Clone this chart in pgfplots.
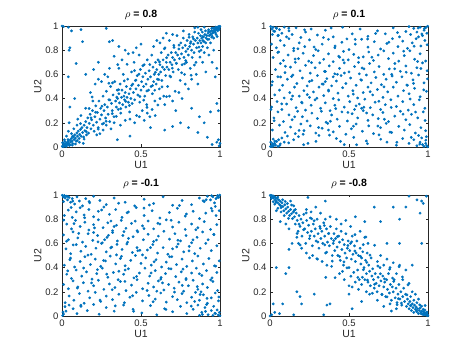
\documentclass[border=0pt]{standalone}
\usepackage{fontspec}
\setmainfont{Liberation Sans}
\usepackage{pgfplots}
\pgfplotsset{compat=1.18}
\definecolor{mblue}{rgb}{0,0.447,0.741}
\definecolor{mgray}{rgb}{0.15,0.15,0.15}
\pgfplotsset{
  cop/.style={
    scale only axis, width=158pt, height=121pt,
    xmin=0, xmax=1, ymin=0, ymax=1,
    xtick={0,0.5,1}, ytick={0,0.2,0.4,0.6,0.8,1},
    xticklabels={0,0.5,1}, yticklabels={0,0.2,0.4,0.6,0.8,1},
    tick align=inside, major tick length=2.5pt,
    axis line style={mgray, line width=0.6pt},
    every tick/.style={mgray, line width=0.5pt},
    tick label style={font=\fontsize{9.5}{10}\selectfont, text=mgray},
    label style={font=\fontsize{10.5}{12}\selectfont, text=mgray},
    title style={font=\fontsize{10.5}{12}\selectfont\bfseries, text=black, yshift=-3pt},
    xlabel={U1}, ylabel={U2},
    xlabel style={yshift=3pt}, ylabel style={yshift=-3pt},
    clip=false,
    /pgf/number format/assume math mode=true,
  },
  dots/.style={only marks, mark=*, mark size=1.2pt, mblue, mark options={draw=none, fill=mblue}},
}
\begin{document}
\begin{tikzpicture}
\path[use as bounding box] (0,0) rectangle (474pt,355pt);
% rho = 0.8
\begin{axis}[cop, at={(62pt,208pt)}, anchor=south west, title={$\rho$ = 0.8}]
\addplot[dots] table[row sep=\\] {
x y\\
0.002 0.004\\ 0.006 0.010\\ 0.010 0.003\\ 0.012 0.018\\ 0.016 0.009\\ 0.020 0.026\\ 0.024 0.014\\ 0.027 0.005\\
0.031 0.035\\ 0.035 0.022\\ 0.039 0.047\\ 0.043 0.030\\ 0.047 0.012\\ 0.051 0.058\\ 0.055 0.041\\ 0.060 0.072\\
0.064 0.050\\ 0.068 0.028\\ 0.072 0.085\\ 0.077 0.062\\ 0.081 0.100\\ 0.085 0.074\\ 0.090 0.048\\ 0.094 0.115\\
0.098 0.090\\ 0.103 0.132\\ 0.108 0.070\\ 0.112 0.104\\ 0.117 0.145\\ 0.121 0.088\\ 0.126 0.160\\ 0.131 0.120\\
0.004 0.035\\ 0.015 0.060\\ 0.028 0.090\\ 0.040 0.130\\ 0.018 0.045\\ 0.065 0.015\\ 0.085 0.025\\ 0.110 0.040\\
0.135 0.030\\ 0.060 0.110\\ 0.075 0.150\\ 0.045 0.200\\ 0.095 0.180\\ 0.140 0.065\\ 0.155 0.100\\
0.140 0.180\\ 0.145 0.135\\ 0.150 0.210\\ 0.158 0.160\\ 0.163 0.240\\ 0.168 0.115\\ 0.172 0.195\\ 0.178 0.270\\
0.183 0.150\\ 0.188 0.225\\ 0.193 0.300\\ 0.198 0.180\\ 0.203 0.130\\ 0.208 0.250\\ 0.214 0.340\\ 0.219 0.205\\
0.224 0.285\\ 0.229 0.160\\ 0.234 0.380\\ 0.240 0.230\\ 0.245 0.320\\ 0.250 0.265\\ 0.255 0.190\\ 0.260 0.420\\
0.266 0.300\\ 0.271 0.350\\ 0.276 0.240\\ 0.281 0.460\\ 0.287 0.330\\ 0.292 0.270\\ 0.297 0.390\\ 0.302 0.210\\
0.308 0.500\\ 0.313 0.360\\ 0.318 0.300\\ 0.323 0.430\\ 0.329 0.250\\ 0.334 0.540\\ 0.339 0.380\\ 0.344 0.330\\
0.350 0.470\\ 0.210 0.520\\ 0.230 0.560\\ 0.250 0.540\\ 0.270 0.600\\ 0.290 0.580\\ 0.300 0.650\\ 0.320 0.530\\
0.180 0.450\\ 0.195 0.380\\ 0.150 0.320\\ 0.120 0.260\\ 0.100 0.230\\ 0.260 0.140\\ 0.280 0.180\\ 0.310 0.150\\
0.330 0.200\\ 0.220 0.100\\ 0.240 0.110\\
0.352 0.400\\ 0.356 0.310\\ 0.360 0.440\\ 0.364 0.365\\ 0.368 0.520\\ 0.372 0.280\\ 0.376 0.410\\ 0.380 0.470\\
0.384 0.350\\ 0.388 0.600\\ 0.392 0.420\\ 0.396 0.390\\ 0.400 0.450\\ 0.404 0.330\\ 0.408 0.500\\ 0.412 0.410\\
0.416 0.560\\ 0.420 0.370\\ 0.424 0.440\\ 0.428 0.290\\ 0.432 0.480\\ 0.436 0.400\\ 0.440 0.620\\ 0.444 0.360\\
0.448 0.520\\ 0.452 0.450\\ 0.456 0.700\\ 0.460 0.390\\ 0.464 0.550\\ 0.468 0.480\\ 0.472 0.260\\ 0.476 0.590\\
0.480 0.430\\ 0.484 0.510\\ 0.488 0.760\\ 0.492 0.370\\ 0.496 0.640\\ 0.500 0.470\\ 0.504 0.540\\ 0.508 0.300\\
0.512 0.580\\ 0.516 0.500\\ 0.520 0.680\\ 0.524 0.420\\ 0.528 0.610\\ 0.532 0.520\\ 0.536 0.350\\ 0.540 0.720\\
0.544 0.560\\ 0.548 0.470\\ 0.552 0.630\\ 0.556 0.250\\ 0.560 0.580\\ 0.564 0.500\\ 0.568 0.760\\ 0.572 0.440\\
0.576 0.660\\ 0.580 0.540\\ 0.584 0.600\\ 0.588 0.380\\ 0.592 0.700\\ 0.596 0.520\\ 0.400 0.800\\ 0.420 0.770\\
0.450 0.780\\ 0.380 0.720\\ 0.360 0.650\\ 0.470 0.820\\ 0.500 0.850\\ 0.430 0.230\\ 0.460 0.200\\ 0.490 0.250\\
0.520 0.220\\ 0.540 0.280\\ 0.570 0.310\\ 0.590 0.260\\ 0.370 0.180\\ 0.400 0.220\\
0.600 0.640\\ 0.604 0.560\\ 0.608 0.720\\ 0.612 0.600\\ 0.616 0.480\\ 0.620 0.680\\ 0.624 0.620\\ 0.628 0.780\\
0.632 0.550\\ 0.636 0.660\\ 0.640 0.720\\ 0.644 0.420\\ 0.648 0.640\\ 0.652 0.820\\ 0.656 0.590\\ 0.660 0.700\\
0.664 0.660\\ 0.668 0.500\\ 0.672 0.760\\ 0.676 0.640\\ 0.680 0.880\\ 0.684 0.700\\ 0.688 0.580\\ 0.692 0.780\\
0.696 0.680\\ 0.700 0.740\\ 0.704 0.620\\ 0.708 0.840\\ 0.712 0.720\\ 0.716 0.460\\ 0.720 0.780\\ 0.724 0.690\\
0.728 0.920\\ 0.732 0.760\\ 0.736 0.640\\ 0.740 0.810\\ 0.744 0.730\\ 0.748 0.550\\ 0.752 0.860\\ 0.756 0.770\\
0.760 0.680\\ 0.764 0.820\\ 0.768 0.900\\ 0.772 0.740\\ 0.776 0.600\\ 0.780 0.840\\ 0.784 0.790\\ 0.788 0.700\\
0.792 0.880\\ 0.796 0.810\\ 0.800 0.760\\ 0.804 0.930\\ 0.808 0.830\\ 0.812 0.650\\ 0.816 0.870\\ 0.820 0.800\\
0.824 0.740\\ 0.828 0.910\\ 0.832 0.850\\ 0.836 0.780\\ 0.840 0.950\\ 0.844 0.880\\ 0.848 0.700\\ 0.852 0.820\\
0.856 0.900\\ 0.860 0.860\\ 0.864 0.940\\ 0.868 0.790\\ 0.620 0.400\\ 0.650 0.350\\ 0.680 0.420\\ 0.700 0.380\\
0.720 0.300\\ 0.740 0.450\\ 0.760 0.400\\ 0.780 0.520\\ 0.800 0.480\\ 0.820 0.560\\ 0.850 0.600\\ 0.860 0.520\\
0.640 0.900\\ 0.660 0.940\\ 0.700 0.930\\ 0.620 0.860\\ 0.600 0.880\\ 0.580 0.830\\
0.872 0.880\\ 0.876 0.920\\ 0.880 0.860\\ 0.884 0.900\\ 0.888 0.950\\ 0.892 0.880\\ 0.896 0.910\\ 0.900 0.870\\
0.904 0.930\\ 0.908 0.960\\ 0.912 0.900\\ 0.916 0.920\\ 0.920 0.890\\ 0.924 0.940\\ 0.928 0.970\\ 0.932 0.920\\
0.936 0.950\\ 0.940 0.930\\ 0.944 0.960\\ 0.948 0.980\\ 0.952 0.940\\ 0.956 0.960\\ 0.960 0.950\\ 0.964 0.975\\
0.968 0.960\\ 0.972 0.985\\ 0.976 0.970\\ 0.980 0.980\\ 0.984 0.990\\ 0.988 0.985\\ 0.992 0.995\\ 0.996 0.990\\
0.999 0.998\\ 0.990 0.975\\ 0.970 0.945\\ 0.950 0.915\\ 0.930 0.890\\ 0.910 0.860\\ 0.890 0.830\\ 0.880 0.800\\
0.900 0.780\\ 0.920 0.820\\ 0.940 0.860\\ 0.960 0.900\\ 0.975 0.930\\ 0.985 0.960\\ 0.995 0.975\\ 0.880 0.970\\
0.900 0.990\\ 0.860 0.990\\ 0.840 0.985\\ 0.930 0.760\\ 0.950 0.700\\ 0.970 0.580\\ 0.980 0.650\\ 0.960 0.800\\
0.890 0.700\\ 0.910 0.620\\
0.000 1.000\\ 0.010 0.995\\ 0.040 0.990\\ 0.060 0.960\\ 0.045 0.800\\ 0.050 0.820\\ 0.120 0.970\\ 0.130 0.870\\
0.090 0.690\\ 0.040 0.580\\ 0.050 0.330\\ 0.280 0.980\\ 0.300 0.870\\ 0.320 0.880\\ 0.230 0.700\\ 0.200 0.640\\
0.950 0.020\\ 0.980 0.040\\ 0.995 0.010\\ 1.000 0.030\\ 0.990 0.060\\ 0.920 0.080\\ 0.860 0.120\\ 0.800 0.160\\
0.650 0.140\\ 0.700 0.170\\ 0.750 0.200\\ 0.560 0.160\\ 0.430 0.090\\ 0.350 0.060\\ 0.900 0.200\\ 0.940 0.290\\
0.980 0.360\\ 0.990 0.300\\ 0.870 0.250\\ 0.820 0.320\\ 0.080 0.400\\ 0.150 0.600\\ 0.330 0.750\\ 0.360 0.830\\
0.213 0.287\\ 0.347 0.412\\ 0.468 0.553\\ 0.591 0.617\\ 0.724 0.693\\ 0.812 0.857\\ 0.153 0.127\\ 0.279 0.213\\
0.403 0.377\\ 0.537 0.463\\ 0.662 0.738\\ 0.783 0.714\\ 0.891 0.913\\ 0.067 0.089\\ 0.184 0.241\\ 0.318 0.276\\
0.441 0.509\\ 0.573 0.507\\ 0.698 0.651\\ 0.832 0.893\\ 0.947 0.908\\ 0.117 0.193\\ 0.253 0.337\\ 0.372 0.317\\
0.493 0.418\\ 0.617 0.703\\ 0.741 0.842\\ 0.867 0.826\\ 0.038 0.061\\ 0.229 0.148\\ 0.358 0.473\\ 0.487 0.602\\
0.613 0.557\\ 0.757 0.613\\ 0.873 0.743\\ 0.096 0.053\\ 0.303 0.389\\ 0.426 0.343\\ 0.556 0.681\\ 0.683 0.587\\
0.804 0.907\\ 0.927 0.957\\ 0.172 0.318\\ 0.394 0.547\\ 0.517 0.387\\ 0.648 0.812\\ 0.776 0.687\\ 0.264 0.196\\
0.459 0.631\\ 0.587 0.469\\ 0.709 0.823\\ 0.838 0.677\\ 0.137 0.083\\ 0.344 0.253\\ 0.512 0.671\\ 0.633 0.497\\
0.768 0.959\\ 0.982 0.913\\ 0.049 0.017\\ 0.021 0.009\\ 0.973 0.991\\ 0.957 0.983\\ 0.008 0.029\\ 0.993 0.968\\
0.412 0.683\\ 0.538 0.327\\ 0.297 0.527\\ 0.662 0.416\\ 0.191 0.413\\ 0.817 0.593\\ 0.353 0.681\\ 0.607 0.347\\
};
\end{axis}
% rho = 0.1
\begin{axis}[cop, at={(270pt,208pt)}, anchor=south west, title={$\rho$ = 0.1}]
\addplot[dots] table[row sep=\\] {
x y\\
0.003 0.004\\ 0.008 0.012\\ 0.012 0.003\\ 0.018 0.020\\ 0.022 0.008\\ 0.028 0.030\\ 0.035 0.015\\ 0.042 0.045\\
0.050 0.005\\ 0.055 0.060\\ 0.065 0.025\\ 0.075 0.075\\ 0.090 0.040\\ 0.110 0.090\\ 0.150 0.060\\ 0.180 0.085\\
0.240 0.030\\ 0.310 0.095\\ 0.420 0.070\\ 0.470 0.020\\ 0.530 0.080\\ 0.610 0.050\\ 0.690 0.100\\ 0.740 0.040\\
0.800 0.015\\ 0.840 0.070\\ 0.880 0.030\\ 0.910 0.060\\ 0.930 0.010\\ 0.950 0.040\\ 0.965 0.020\\ 0.975 0.005\\
0.985 0.030\\ 0.992 0.012\\ 0.998 0.002\\ 0.960 0.075\\ 0.990 0.085\\ 0.940 0.095\\ 0.020 0.065\\ 0.005 0.040\\
0.015 0.140\\ 0.060 0.180\\ 0.095 0.120\\ 0.130 0.165\\ 0.160 0.110\\ 0.195 0.190\\ 0.215 0.135\\ 0.255 0.175\\
0.290 0.115\\ 0.330 0.155\\ 0.365 0.195\\ 0.400 0.125\\ 0.440 0.170\\ 0.480 0.105\\ 0.515 0.150\\ 0.545 0.190\\
0.585 0.130\\ 0.625 0.175\\ 0.655 0.110\\ 0.700 0.160\\ 0.735 0.195\\ 0.770 0.120\\ 0.815 0.170\\ 0.850 0.140\\
0.885 0.185\\ 0.920 0.115\\ 0.955 0.160\\ 0.985 0.135\\ 0.210 0.105\\ 0.370 0.140\\
0.025 0.240\\ 0.050 0.290\\ 0.085 0.210\\ 0.120 0.265\\ 0.140 0.225\\ 0.175 0.295\\ 0.205 0.250\\ 0.235 0.215\\
0.265 0.280\\ 0.300 0.235\\ 0.325 0.295\\ 0.355 0.205\\ 0.390 0.265\\ 0.425 0.230\\ 0.455 0.290\\ 0.490 0.215\\
0.520 0.275\\ 0.555 0.240\\ 0.590 0.300\\ 0.620 0.220\\ 0.650 0.265\\ 0.685 0.235\\ 0.715 0.285\\ 0.750 0.210\\
0.790 0.255\\ 0.825 0.295\\ 0.860 0.225\\ 0.895 0.270\\ 0.935 0.240\\ 0.970 0.290\\
0.010 0.330\\ 0.045 0.375\\ 0.075 0.310\\ 0.105 0.355\\ 0.135 0.395\\ 0.165 0.325\\ 0.200 0.370\\ 0.225 0.305\\
0.260 0.345\\ 0.285 0.390\\ 0.320 0.320\\ 0.350 0.365\\ 0.380 0.300\\ 0.410 0.345\\ 0.435 0.390\\ 0.470 0.330\\
0.505 0.375\\ 0.535 0.310\\ 0.565 0.355\\ 0.600 0.395\\ 0.635 0.325\\ 0.665 0.370\\ 0.700 0.310\\ 0.730 0.350\\
0.765 0.390\\ 0.800 0.335\\ 0.840 0.375\\ 0.875 0.305\\ 0.910 0.350\\ 0.945 0.390\\ 0.980 0.320\\ 0.545 0.340\\
0.580 0.320\\
0.030 0.430\\ 0.060 0.470\\ 0.090 0.405\\ 0.125 0.450\\ 0.155 0.495\\ 0.185 0.420\\ 0.215 0.465\\ 0.250 0.410\\
0.275 0.455\\ 0.310 0.495\\ 0.340 0.425\\ 0.370 0.470\\ 0.400 0.400\\ 0.430 0.445\\ 0.460 0.490\\ 0.495 0.420\\
0.525 0.465\\ 0.555 0.405\\ 0.590 0.450\\ 0.620 0.495\\ 0.650 0.430\\ 0.680 0.475\\ 0.715 0.410\\ 0.745 0.455\\
0.780 0.495\\ 0.810 0.420\\ 0.845 0.465\\ 0.880 0.440\\ 0.915 0.485\\ 0.950 0.415\\ 0.990 0.460\\
0.015 0.540\\ 0.050 0.580\\ 0.080 0.510\\ 0.110 0.560\\ 0.145 0.595\\ 0.170 0.525\\ 0.205 0.570\\ 0.235 0.505\\
0.265 0.550\\ 0.300 0.590\\ 0.330 0.520\\ 0.360 0.565\\ 0.390 0.505\\ 0.420 0.545\\ 0.450 0.590\\ 0.480 0.525\\
0.510 0.570\\ 0.545 0.510\\ 0.575 0.555\\ 0.610 0.595\\ 0.640 0.530\\ 0.670 0.575\\ 0.705 0.515\\ 0.735 0.560\\
0.770 0.600\\ 0.800 0.535\\ 0.835 0.580\\ 0.870 0.510\\ 0.905 0.555\\ 0.940 0.595\\ 0.975 0.530\\ 0.400 0.580\\
0.350 0.540\\
0.035 0.640\\ 0.065 0.690\\ 0.095 0.615\\ 0.130 0.660\\ 0.160 0.700\\ 0.190 0.630\\ 0.225 0.675\\ 0.255 0.610\\
0.285 0.655\\ 0.315 0.695\\ 0.345 0.625\\ 0.375 0.670\\ 0.410 0.605\\ 0.440 0.650\\ 0.470 0.695\\ 0.500 0.620\\
0.535 0.665\\ 0.565 0.605\\ 0.595 0.645\\ 0.630 0.690\\ 0.660 0.620\\ 0.690 0.665\\ 0.720 0.600\\ 0.755 0.645\\
0.790 0.690\\ 0.825 0.625\\ 0.860 0.670\\ 0.895 0.610\\ 0.930 0.655\\ 0.965 0.695\\ 0.995 0.630\\
0.020 0.740\\ 0.055 0.785\\ 0.085 0.715\\ 0.115 0.760\\ 0.150 0.795\\ 0.180 0.730\\ 0.210 0.775\\ 0.245 0.710\\
0.275 0.755\\ 0.305 0.795\\ 0.340 0.725\\ 0.370 0.770\\ 0.400 0.705\\ 0.435 0.750\\ 0.465 0.790\\ 0.495 0.720\\
0.530 0.765\\ 0.560 0.700\\ 0.590 0.745\\ 0.625 0.785\\ 0.655 0.715\\ 0.685 0.760\\ 0.720 0.795\\ 0.750 0.730\\
0.780 0.775\\ 0.815 0.710\\ 0.850 0.755\\ 0.885 0.795\\ 0.915 0.725\\ 0.950 0.770\\ 0.985 0.710\\
0.010 0.850\\ 0.040 0.820\\ 0.065 0.880\\ 0.090 0.840\\ 0.120 0.895\\ 0.150 0.815\\ 0.185 0.860\\ 0.220 0.830\\
0.250 0.885\\ 0.290 0.805\\ 0.330 0.850\\ 0.370 0.890\\ 0.410 0.820\\ 0.455 0.865\\ 0.500 0.805\\ 0.540 0.850\\
0.580 0.890\\ 0.620 0.825\\ 0.660 0.870\\ 0.700 0.810\\ 0.740 0.855\\ 0.775 0.895\\ 0.810 0.830\\ 0.840 0.875\\
0.870 0.815\\ 0.900 0.860\\ 0.925 0.895\\ 0.955 0.835\\ 0.980 0.880\\ 0.995 0.845\\
0.005 0.995\\ 0.012 0.975\\ 0.020 0.990\\ 0.030 0.955\\ 0.040 0.985\\ 0.050 0.920\\ 0.060 0.970\\ 0.075 0.940\\
0.090 0.990\\ 0.105 0.910\\ 0.120 0.960\\ 0.140 0.930\\ 0.165 0.985\\ 0.195 0.905\\ 0.225 0.950\\ 0.260 0.975\\
0.300 0.925\\ 0.350 0.965\\ 0.400 0.910\\ 0.460 0.990\\ 0.520 0.935\\ 0.570 0.975\\ 0.620 0.915\\ 0.680 0.960\\
0.730 0.935\\ 0.780 0.985\\ 0.820 0.910\\ 0.860 0.955\\ 0.890 0.930\\ 0.910 0.980\\ 0.930 0.950\\ 0.950 0.990\\
0.965 0.920\\ 0.975 0.965\\ 0.985 0.985\\ 0.993 0.940\\ 0.998 0.998\\ 0.940 0.910\\ 0.880 0.995\\ 0.015 0.930\\
0.137 0.583\\ 0.842 0.271\\ 0.463 0.719\\ 0.291 0.047\\ 0.618 0.892\\ 0.074 0.356\\ 0.955 0.648\\ 0.382 0.213\\
0.527 0.437\\ 0.701 0.064\\ 0.219 0.968\\ 0.866 0.512\\ 0.049 0.781\\ 0.594 0.329\\ 0.338 0.904\\ 0.773 0.587\\
0.156 0.249\\ 0.912 0.833\\ 0.427 0.601\\ 0.689 0.378\\ 0.011 0.512\\ 0.263 0.697\\ 0.548 0.018\\ 0.807 0.946\\
0.371 0.462\\ 0.982 0.219\\ 0.118 0.034\\ 0.645 0.742\\ 0.493 0.286\\ 0.236 0.433\\ 0.759 0.123\\ 0.053 0.923\\
0.887 0.396\\ 0.412 0.834\\ 0.579 0.553\\ 0.308 0.161\\ 0.934 0.707\\ 0.177 0.812\\ 0.721 0.497\\ 0.446 0.047\\
0.026 0.217\\ 0.668 0.938\\ 0.351 0.624\\ 0.894 0.079\\ 0.203 0.364\\ 0.612 0.281\\ 0.487 0.893\\ 0.789 0.646\\
0.097 0.667\\ 0.561 0.738\\ 0.973 0.472\\ 0.249 0.541\\ 0.724 0.229\\ 0.387 0.984\\ 0.143 0.421\\ 0.846 0.792\\
0.528 0.172\\ 0.031 0.048\\ 0.961 0.934\\ 0.279 0.826\\ 0.634 0.457\\ 0.416 0.317\\ 0.803 0.039\\ 0.184 0.137\\
0.583 0.653\\ 0.067 0.579\\ 0.921 0.289\\ 0.337 0.519\\ 0.752 0.866\\ 0.471 0.611\\ 0.213 0.019\\ 0.996 0.563\\
0.119 0.982\\ 0.683 0.173\\ 0.539 0.889\\ 0.297 0.403\\ 0.862 0.618\\ 0.006 0.311\\ 0.441 0.742\\ 0.767 0.327\\
0.159 0.727\\ 0.617 0.027\\ 0.376 0.098\\ 0.908 0.526\\ 0.041 0.981\\ 0.986 0.056\\ 0.017 0.027\\ 0.977 0.979\\
0.062 0.013\\ 0.948 0.024\\ 0.023 0.958\\ 0.938 0.983\\
};
\end{axis}
% rho = -0.1
\begin{axis}[cop, at={(62pt,39pt)}, anchor=south west, title={$\rho$ = -0.1}]
\addplot[dots] table[row sep=\\] {
x y\\
0.004 0.003\\ 0.010 0.015\\ 0.025 0.040\\ 0.045 0.090\\ 0.070 0.060\\ 0.095 0.020\\ 0.120 0.080\\ 0.160 0.045\\
0.200 0.095\\ 0.235 0.015\\ 0.280 0.070\\ 0.330 0.040\\ 0.390 0.090\\ 0.450 0.055\\ 0.505 0.025\\ 0.560 0.085\\
0.600 0.010\\ 0.650 0.060\\ 0.700 0.035\\ 0.750 0.080\\ 0.790 0.020\\ 0.830 0.055\\ 0.860 0.090\\ 0.885 0.030\\
0.905 0.070\\ 0.925 0.010\\ 0.945 0.045\\ 0.960 0.080\\ 0.972 0.020\\ 0.982 0.050\\ 0.990 0.008\\ 0.996 0.030\\
1.000 0.002\\ 0.955 0.005\\ 0.915 0.095\\ 0.870 0.005\\
0.020 0.110\\ 0.045 0.165\\ 0.075 0.130\\ 0.110 0.185\\ 0.140 0.105\\ 0.175 0.150\\ 0.210 0.195\\ 0.245 0.120\\
0.280 0.165\\ 0.320 0.135\\ 0.360 0.180\\ 0.395 0.110\\ 0.430 0.155\\ 0.470 0.195\\ 0.510 0.125\\ 0.550 0.170\\
0.590 0.140\\ 0.625 0.190\\ 0.660 0.115\\ 0.700 0.160\\ 0.730 0.135\\ 0.760 0.185\\ 0.790 0.110\\ 0.820 0.155\\
0.845 0.195\\ 0.870 0.130\\ 0.895 0.175\\ 0.920 0.105\\ 0.945 0.150\\ 0.970 0.190\\ 0.990 0.125\\ 0.880 0.200\\
0.840 0.120\\
0.010 0.260\\ 0.040 0.225\\ 0.070 0.290\\ 0.100 0.240\\ 0.135 0.275\\ 0.165 0.205\\ 0.200 0.250\\ 0.230 0.295\\
0.265 0.220\\ 0.300 0.265\\ 0.335 0.235\\ 0.370 0.285\\ 0.405 0.210\\ 0.440 0.255\\ 0.475 0.300\\ 0.510 0.225\\
0.545 0.270\\ 0.580 0.240\\ 0.610 0.290\\ 0.645 0.215\\ 0.675 0.260\\ 0.710 0.230\\ 0.740 0.280\\ 0.770 0.205\\
0.800 0.250\\ 0.830 0.295\\ 0.860 0.220\\ 0.890 0.265\\ 0.920 0.235\\ 0.955 0.285\\ 0.985 0.210\\ 0.600 0.205\\
0.785 0.300\\
0.030 0.345\\ 0.060 0.310\\ 0.090 0.380\\ 0.125 0.330\\ 0.155 0.365\\ 0.190 0.305\\ 0.220 0.350\\ 0.255 0.395\\
0.290 0.320\\ 0.325 0.360\\ 0.355 0.300\\ 0.390 0.345\\ 0.420 0.390\\ 0.455 0.315\\ 0.490 0.355\\ 0.525 0.395\\
0.555 0.330\\ 0.590 0.375\\ 0.625 0.305\\ 0.655 0.350\\ 0.690 0.390\\ 0.720 0.325\\ 0.755 0.365\\ 0.785 0.310\\
0.820 0.355\\ 0.850 0.395\\ 0.885 0.335\\ 0.915 0.375\\ 0.950 0.315\\ 0.980 0.360\\ 0.400 0.380\\ 0.360 0.370\\
0.015 0.420\\ 0.050 0.465\\ 0.080 0.405\\ 0.115 0.450\\ 0.145 0.490\\ 0.180 0.425\\ 0.210 0.470\\ 0.245 0.410\\
0.275 0.455\\ 0.305 0.495\\ 0.340 0.430\\ 0.370 0.475\\ 0.400 0.415\\ 0.435 0.460\\ 0.465 0.500\\ 0.500 0.435\\
0.530 0.480\\ 0.565 0.420\\ 0.595 0.465\\ 0.630 0.405\\ 0.660 0.445\\ 0.695 0.490\\ 0.725 0.425\\ 0.760 0.470\\
0.790 0.410\\ 0.825 0.455\\ 0.860 0.495\\ 0.895 0.430\\ 0.930 0.475\\ 0.965 0.415\\ 0.995 0.455\\
0.025 0.555\\ 0.055 0.515\\ 0.090 0.590\\ 0.120 0.535\\ 0.150 0.575\\ 0.185 0.510\\ 0.215 0.560\\ 0.250 0.600\\
0.280 0.530\\ 0.315 0.570\\ 0.345 0.505\\ 0.380 0.550\\ 0.410 0.595\\ 0.445 0.525\\ 0.475 0.565\\ 0.510 0.505\\
0.540 0.545\\ 0.575 0.590\\ 0.605 0.520\\ 0.640 0.565\\ 0.670 0.510\\ 0.700 0.555\\ 0.735 0.595\\ 0.770 0.530\\
0.805 0.575\\ 0.840 0.515\\ 0.875 0.560\\ 0.910 0.600\\ 0.945 0.540\\ 0.980 0.580\\ 0.560 0.565\\ 0.480 0.540\\
0.010 0.670\\ 0.040 0.630\\ 0.070 0.695\\ 0.100 0.645\\ 0.130 0.610\\ 0.165 0.680\\ 0.195 0.625\\ 0.225 0.665\\
0.255 0.605\\ 0.285 0.650\\ 0.320 0.690\\ 0.350 0.620\\ 0.385 0.665\\ 0.415 0.610\\ 0.450 0.655\\ 0.480 0.695\\
0.515 0.630\\ 0.545 0.675\\ 0.580 0.615\\ 0.610 0.660\\ 0.645 0.700\\ 0.680 0.635\\ 0.715 0.680\\ 0.750 0.620\\
0.785 0.665\\ 0.820 0.605\\ 0.855 0.650\\ 0.890 0.695\\ 0.925 0.630\\ 0.960 0.675\\ 0.200 0.690\\ 0.270 0.630\\
0.030 0.760\\ 0.060 0.720\\ 0.085 0.790\\ 0.115 0.740\\ 0.145 0.775\\ 0.170 0.710\\ 0.200 0.755\\ 0.230 0.795\\
0.260 0.730\\ 0.290 0.770\\ 0.320 0.705\\ 0.345 0.750\\ 0.375 0.790\\ 0.405 0.725\\ 0.440 0.765\\ 0.475 0.705\\
0.510 0.745\\ 0.545 0.785\\ 0.580 0.720\\ 0.620 0.760\\ 0.660 0.795\\ 0.700 0.735\\ 0.740 0.775\\ 0.780 0.715\\
0.820 0.760\\ 0.860 0.730\\ 0.900 0.780\\ 0.940 0.715\\ 0.980 0.755\\ 0.310 0.785\\ 0.330 0.740\\
0.015 0.830\\ 0.040 0.875\\ 0.065 0.815\\ 0.090 0.860\\ 0.115 0.895\\ 0.140 0.835\\ 0.170 0.880\\ 0.200 0.820\\
0.230 0.865\\ 0.265 0.900\\ 0.300 0.840\\ 0.340 0.880\\ 0.380 0.815\\ 0.420 0.860\\ 0.470 0.895\\ 0.520 0.830\\
0.570 0.870\\ 0.620 0.810\\ 0.680 0.855\\ 0.730 0.890\\ 0.780 0.825\\ 0.830 0.865\\ 0.870 0.805\\ 0.910 0.850\\
0.945 0.890\\ 0.975 0.830\\ 0.995 0.870\\
0.002 0.998\\ 0.008 0.985\\ 0.015 0.995\\ 0.020 0.975\\ 0.028 0.990\\ 0.035 0.960\\ 0.045 0.980\\ 0.055 0.940\\
0.065 0.970\\ 0.080 0.925\\ 0.095 0.985\\ 0.110 0.950\\ 0.130 0.910\\ 0.150 0.970\\ 0.175 0.935\\ 0.200 0.990\\
0.240 0.955\\ 0.280 0.920\\ 0.330 0.975\\ 0.400 0.940\\ 0.460 0.910\\ 0.520 0.965\\ 0.580 0.930\\ 0.640 0.985\\
0.700 0.915\\ 0.760 0.955\\ 0.820 0.920\\ 0.870 0.975\\ 0.900 0.945\\ 0.920 0.990\\ 0.940 0.960\\ 0.955 0.985\\
0.965 0.935\\ 0.975 0.970\\ 0.985 0.995\\ 0.992 0.980\\ 0.998 0.999\\ 0.970 0.905\\ 0.010 0.945\\
0.143 0.812\\ 0.856 0.243\\ 0.392 0.697\\ 0.627 0.318\\ 0.071 0.587\\ 0.918 0.146\\ 0.263 0.459\\ 0.734 0.626\\
0.519 0.891\\ 0.187 0.273\\ 0.804 0.538\\ 0.447 0.167\\ 0.036 0.373\\ 0.691 0.791\\ 0.358 0.932\\ 0.973 0.412\\
0.228 0.613\\ 0.583 0.448\\ 0.119 0.089\\ 0.847 0.713\\ 0.472 0.327\\ 0.309 0.563\\ 0.658 0.054\\ 0.011 0.793\\
0.766 0.387\\ 0.251 0.876\\ 0.539 0.211\\ 0.893 0.952\\ 0.164 0.503\\ 0.421 0.641\\ 0.712 0.198\\ 0.058 0.897\\
0.962 0.673\\ 0.337 0.084\\ 0.607 0.766\\ 0.283 0.346\\ 0.818 0.082\\ 0.493 0.543\\ 0.097 0.231\\ 0.743 0.913\\
0.376 0.493\\ 0.941 0.298\\ 0.206 0.728\\ 0.564 0.356\\ 0.029 0.618\\ 0.681 0.489\\ 0.412 0.853\\ 0.874 0.178\\
0.137 0.396\\ 0.598 0.628\\ 0.318 0.217\\ 0.787 0.843\\ 0.453 0.039\\ 0.076 0.764\\ 0.993 0.157\\ 0.241 0.131\\
0.636 0.273\\ 0.519 0.722\\ 0.869 0.349\\ 0.172 0.946\\ 0.726 0.571\\ 0.398 0.286\\ 0.951 0.868\\ 0.054 0.478\\
0.577 0.118\\ 0.294 0.667\\ 0.829 0.629\\ 0.463 0.784\\ 0.106 0.683\\ 0.676 0.392\\ 0.348 0.592\\ 0.908 0.038\\
0.224 0.383\\ 0.553 0.917\\ 0.761 0.253\\ 0.019 0.078\\ 0.984 0.983\\ 0.967 0.023\\ 0.037 0.987\\ 0.912 0.961\\
0.889 0.012\\ 0.006 0.032\\ 0.947 0.994\\ 0.068 0.949\\
};
\end{axis}
% rho = -0.8
\begin{axis}[cop, at={(270pt,39pt)}, anchor=south west, title={$\rho$ = -0.8}]
\addplot[dots] table[row sep=\\] {
x y\\
0.002 0.997\\ 0.006 0.990\\ 0.010 0.996\\ 0.014 0.982\\ 0.018 0.992\\ 0.022 0.975\\ 0.027 0.985\\ 0.031 0.960\\
0.035 0.978\\ 0.040 0.950\\ 0.045 0.970\\ 0.050 0.935\\ 0.055 0.960\\ 0.060 0.920\\ 0.065 0.948\\ 0.070 0.895\\
0.076 0.935\\ 0.082 0.905\\ 0.088 0.870\\ 0.094 0.920\\ 0.100 0.885\\ 0.106 0.850\\ 0.112 0.900\\ 0.118 0.865\\
0.124 0.830\\ 0.130 0.880\\ 0.136 0.845\\ 0.142 0.805\\ 0.148 0.860\\ 0.030 0.925\\ 0.050 0.890\\ 0.070 0.860\\
0.090 0.830\\ 0.020 0.945\\ 0.080 0.960\\ 0.110 0.930\\ 0.130 0.950\\ 0.150 0.910\\ 0.160 0.880\\ 0.040 0.870\\
0.065 0.780\\ 0.100 0.760\\ 0.120 0.720\\
0.155 0.820\\ 0.160 0.760\\ 0.166 0.850\\ 0.172 0.790\\ 0.178 0.700\\ 0.184 0.830\\ 0.190 0.740\\ 0.196 0.800\\
0.202 0.660\\ 0.208 0.770\\ 0.214 0.840\\ 0.220 0.720\\ 0.226 0.600\\ 0.232 0.790\\ 0.238 0.690\\ 0.244 0.750\\
0.250 0.640\\ 0.256 0.810\\ 0.262 0.700\\ 0.268 0.580\\ 0.274 0.760\\ 0.280 0.660\\ 0.286 0.720\\ 0.292 0.620\\
0.298 0.800\\ 0.304 0.680\\ 0.310 0.560\\ 0.316 0.740\\ 0.322 0.640\\ 0.328 0.700\\ 0.334 0.600\\ 0.340 0.770\\
0.346 0.660\\ 0.352 0.520\\ 0.358 0.720\\ 0.364 0.610\\ 0.370 0.680\\ 0.376 0.580\\ 0.382 0.740\\ 0.388 0.640\\
0.394 0.500\\ 0.180 0.600\\ 0.200 0.560\\ 0.230 0.520\\ 0.250 0.480\\ 0.270 0.500\\ 0.300 0.470\\ 0.330 0.450\\
0.360 0.420\\ 0.390 0.410\\ 0.230 0.880\\ 0.260 0.860\\ 0.290 0.900\\ 0.320 0.850\\ 0.350 0.800\\ 0.380 0.820\\
0.140 0.600\\ 0.120 0.550\\ 0.170 0.650\\
0.400 0.600\\ 0.405 0.680\\ 0.410 0.540\\ 0.415 0.640\\ 0.420 0.720\\ 0.425 0.570\\ 0.430 0.500\\ 0.435 0.660\\
0.440 0.610\\ 0.445 0.460\\ 0.450 0.700\\ 0.455 0.550\\ 0.460 0.630\\ 0.465 0.420\\ 0.470 0.590\\ 0.475 0.520\\
0.480 0.680\\ 0.485 0.480\\ 0.490 0.560\\ 0.495 0.620\\ 0.500 0.400\\ 0.505 0.540\\ 0.510 0.600\\ 0.515 0.470\\
0.520 0.660\\ 0.525 0.510\\ 0.530 0.360\\ 0.535 0.580\\ 0.540 0.450\\ 0.545 0.520\\ 0.550 0.620\\ 0.555 0.380\\
0.560 0.500\\ 0.565 0.300\\ 0.570 0.560\\ 0.575 0.430\\ 0.580 0.480\\ 0.585 0.320\\ 0.590 0.590\\ 0.595 0.400\\
0.600 0.300\\ 0.605 0.460\\ 0.610 0.350\\ 0.615 0.520\\ 0.620 0.280\\ 0.625 0.420\\ 0.630 0.370\\ 0.635 0.250\\
0.640 0.480\\ 0.645 0.330\\ 0.650 0.390\\ 0.420 0.800\\ 0.450 0.760\\ 0.480 0.790\\ 0.510 0.740\\ 0.540 0.820\\
0.570 0.700\\ 0.600 0.650\\ 0.620 0.600\\ 0.440 0.350\\ 0.470 0.300\\ 0.500 0.250\\ 0.520 0.240\\ 0.540 0.280\\
0.560 0.220\\ 0.580 0.260\\ 0.610 0.200\\ 0.630 0.180\\
0.655 0.300\\ 0.660 0.230\\ 0.666 0.350\\ 0.672 0.270\\ 0.678 0.200\\ 0.684 0.320\\ 0.690 0.250\\ 0.696 0.400\\
0.702 0.290\\ 0.708 0.180\\ 0.714 0.330\\ 0.720 0.240\\ 0.726 0.280\\ 0.732 0.160\\ 0.738 0.300\\ 0.744 0.220\\
0.750 0.350\\ 0.756 0.190\\ 0.762 0.260\\ 0.768 0.130\\ 0.774 0.240\\ 0.780 0.200\\ 0.786 0.300\\ 0.792 0.150\\
0.798 0.230\\ 0.804 0.110\\ 0.810 0.180\\ 0.816 0.260\\ 0.822 0.140\\ 0.828 0.200\\ 0.834 0.090\\ 0.840 0.160\\
0.846 0.230\\ 0.852 0.120\\ 0.858 0.180\\ 0.864 0.080\\ 0.870 0.140\\ 0.680 0.450\\ 0.720 0.420\\ 0.760 0.400\\
0.800 0.350\\ 0.840 0.300\\ 0.700 0.500\\ 0.740 0.470\\ 0.780 0.440\\ 0.820 0.420\\ 0.860 0.380\\ 0.880 0.270\\
0.760 0.100\\ 0.720 0.080\\ 0.800 0.060\\ 0.680 0.130\\
0.875 0.100\\ 0.880 0.060\\ 0.885 0.120\\ 0.890 0.085\\ 0.895 0.045\\ 0.900 0.100\\ 0.905 0.070\\ 0.910 0.030\\
0.915 0.090\\ 0.920 0.055\\ 0.925 0.075\\ 0.930 0.035\\ 0.935 0.060\\ 0.940 0.020\\ 0.945 0.045\\ 0.950 0.065\\
0.955 0.030\\ 0.960 0.040\\ 0.965 0.015\\ 0.970 0.035\\ 0.975 0.020\\ 0.980 0.028\\ 0.984 0.010\\ 0.988 0.018\\
0.992 0.006\\ 0.996 0.012\\ 0.999 0.002\\ 0.990 0.030\\ 0.970 0.055\\ 0.950 0.090\\ 0.930 0.110\\ 0.910 0.130\\
0.890 0.160\\ 0.960 0.080\\ 0.980 0.050\\ 0.940 0.140\\ 0.920 0.180\\ 0.900 0.200\\
0.000 0.000\\ 0.010 0.010\\ 0.030 0.030\\ 0.060 0.020\\ 0.040 0.400\\ 0.020 0.100\\ 0.080 0.100\\ 0.150 0.010\\
0.170 0.200\\ 0.190 0.160\\ 0.200 0.100\\ 0.280 0.180\\ 0.340 0.010\\ 0.380 0.100\\ 0.360 0.090\\ 0.500 0.180\\
0.520 0.060\\ 0.580 0.120\\ 0.100 0.350\\ 0.120 0.400\\ 0.880 0.990\\ 0.930 0.960\\ 0.990 0.990\\ 0.960 0.950\\
0.950 0.850\\ 0.970 0.930\\ 0.860 0.900\\ 0.820 0.800\\ 0.780 0.900\\ 0.660 0.900\\ 0.600 0.780\\ 0.700 0.780\\
0.960 0.600\\ 0.820 0.600\\ 0.900 0.420\\ 0.740 0.600\\ 0.350 0.950\\ 0.240 0.980\\
0.213 0.713\\ 0.347 0.588\\ 0.468 0.447\\ 0.591 0.383\\ 0.724 0.307\\ 0.812 0.143\\ 0.153 0.873\\ 0.279 0.787\\
0.403 0.623\\ 0.537 0.537\\ 0.662 0.262\\ 0.783 0.286\\ 0.891 0.087\\ 0.067 0.911\\ 0.184 0.759\\ 0.318 0.724\\
0.441 0.491\\ 0.573 0.493\\ 0.698 0.349\\ 0.832 0.107\\ 0.947 0.092\\ 0.117 0.807\\ 0.253 0.663\\ 0.372 0.683\\
0.493 0.582\\ 0.617 0.297\\ 0.741 0.158\\ 0.867 0.174\\ 0.038 0.939\\ 0.229 0.852\\ 0.358 0.527\\ 0.487 0.398\\
0.613 0.443\\ 0.757 0.387\\ 0.873 0.257\\ 0.096 0.947\\ 0.303 0.611\\ 0.426 0.657\\ 0.556 0.319\\ 0.683 0.413\\
0.804 0.093\\ 0.927 0.043\\ 0.172 0.682\\ 0.394 0.453\\ 0.517 0.613\\ 0.648 0.188\\ 0.776 0.313\\ 0.264 0.804\\
0.459 0.369\\ 0.587 0.531\\ 0.709 0.177\\ 0.838 0.323\\ 0.137 0.917\\ 0.344 0.747\\ 0.512 0.329\\ 0.633 0.503\\
0.768 0.041\\ 0.982 0.087\\ 0.049 0.983\\ 0.021 0.991\\ 0.973 0.009\\ 0.957 0.017\\ 0.008 0.971\\ 0.993 0.032\\
0.412 0.317\\ 0.538 0.673\\ 0.297 0.473\\ 0.662 0.584\\ 0.191 0.587\\ 0.817 0.407\\ 0.353 0.319\\ 0.607 0.653\\
};
\end{axis}
\end{tikzpicture}
\end{document}
